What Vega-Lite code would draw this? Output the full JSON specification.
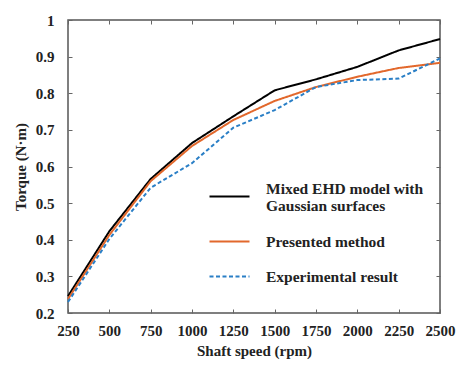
{
  "$schema": "https://vega.github.io/schema/vega-lite/v6.json",
  "width": 372,
  "height": 293,
  "autosize": "none",
  "padding": {"left": 68, "top": 20, "right": 34, "bottom": 59},
  "background": "white",
  "config": {
    "view": {"stroke": "#555", "strokeWidth": 1.5},
    "font": "Liberation Serif",
    "axis": {
      "labelFont": "Liberation Serif",
      "labelFontWeight": "bold",
      "labelFontSize": 15,
      "labelColor": "#222",
      "titleFont": "Liberation Serif",
      "titleFontWeight": "bold",
      "titleFontSize": 15,
      "titleColor": "#222",
      "grid": false,
      "domain": false,
      "tickColor": "#666",
      "tickWidth": 1,
      "tickSize": -4
    }
  },
  "data": {
    "values": [
      {"speed": 250, "torque": 0.246, "series": "Mixed EHD model with|Gaussian surfaces"},
      {"speed": 500, "torque": 0.423, "series": "Mixed EHD model with|Gaussian surfaces"},
      {"speed": 750, "torque": 0.566, "series": "Mixed EHD model with|Gaussian surfaces"},
      {"speed": 1000, "torque": 0.664, "series": "Mixed EHD model with|Gaussian surfaces"},
      {"speed": 1250, "torque": 0.737, "series": "Mixed EHD model with|Gaussian surfaces"},
      {"speed": 1500, "torque": 0.808, "series": "Mixed EHD model with|Gaussian surfaces"},
      {"speed": 1750, "torque": 0.838, "series": "Mixed EHD model with|Gaussian surfaces"},
      {"speed": 2000, "torque": 0.872, "series": "Mixed EHD model with|Gaussian surfaces"},
      {"speed": 2250, "torque": 0.917, "series": "Mixed EHD model with|Gaussian surfaces"},
      {"speed": 2500, "torque": 0.948, "series": "Mixed EHD model with|Gaussian surfaces"},
      {"speed": 250, "torque": 0.238, "series": "Presented method"},
      {"speed": 500, "torque": 0.413, "series": "Presented method"},
      {"speed": 750, "torque": 0.56, "series": "Presented method"},
      {"speed": 1000, "torque": 0.656, "series": "Presented method"},
      {"speed": 1250, "torque": 0.727, "series": "Presented method"},
      {"speed": 1500, "torque": 0.779, "series": "Presented method"},
      {"speed": 1750, "torque": 0.817, "series": "Presented method"},
      {"speed": 2000, "torque": 0.845, "series": "Presented method"},
      {"speed": 2250, "torque": 0.869, "series": "Presented method"},
      {"speed": 2500, "torque": 0.883, "series": "Presented method"},
      {"speed": 250, "torque": 0.23, "series": "Experimental result"},
      {"speed": 500, "torque": 0.402, "series": "Experimental result"},
      {"speed": 750, "torque": 0.542, "series": "Experimental result"},
      {"speed": 1000, "torque": 0.609, "series": "Experimental result"},
      {"speed": 1250, "torque": 0.706, "series": "Experimental result"},
      {"speed": 1500, "torque": 0.754, "series": "Experimental result"},
      {"speed": 1750, "torque": 0.817, "series": "Experimental result"},
      {"speed": 2000, "torque": 0.836, "series": "Experimental result"},
      {"speed": 2250, "torque": 0.84, "series": "Experimental result"},
      {"speed": 2500, "torque": 0.895, "series": "Experimental result"}
    ]
  },
  "layer": [
    {
      "mark": {"type": "line", "strokeWidth": 2},
      "encoding": {
        "x": {
          "field": "speed", "type": "quantitative",
          "scale": {"domain": [250, 2500], "nice": false, "zero": false},
          "axis": {"values": [250, 500, 750, 1000, 1250, 1500, 1750, 2000, 2250, 2500], "format": "d", "title": "Shaft speed (rpm)", "labelPadding": 14, "titlePadding": 5, "labelFlush": false}
        },
        "y": {
          "field": "torque", "type": "quantitative",
          "scale": {"domain": [0.2, 1], "nice": false, "zero": false},
          "axis": {"values": [0.2, 0.3, 0.4, 0.5, 0.6, 0.7, 0.8, 0.9, 1], "format": "~g", "title": "Torque (N·m)", "labelPadding": 18, "titlePadding": 7, "labelFlush": false}
        },
        "color": {
          "field": "series", "type": "nominal",
          "scale": {
            "domain": ["Mixed EHD model with|Gaussian surfaces", "Presented method", "Experimental result"],
            "range": ["#000000", "#e2682c", "#2a7fc6"]
          },
          "legend": {
            "orient": "none", "legendX": 140, "legendY": 155, "title": null,
            "symbolType": "stroke", "symbolSize": 1600, "symbolStrokeWidth": 2.2,
            "labelExpr": "split(datum.label, '|')",
            "labelFont": "Liberation Serif", "labelFontWeight": "bold", "labelFontSize": 15.5,
            "labelColor": "#222", "labelOffset": 15, "rowPadding": 5, "labelLimit": 300,
            "encode": {"labels": {"update": {"dy": {"signal": "indexof(datum.value, '|') > 0 ? -8 : 0"}}}}
          }
        },
        "strokeDash": {
          "field": "series", "type": "nominal",
          "scale": {
            "domain": ["Mixed EHD model with|Gaussian surfaces", "Presented method", "Experimental result"],
            "range": [[1, 0], [1, 0], [4, 2.5]]
          },
          "legend": {
            "orient": "none", "legendX": 140, "legendY": 155, "title": null,
            "symbolType": "stroke", "symbolSize": 1600, "symbolStrokeWidth": 2.2,
            "labelExpr": "split(datum.label, '|')",
            "labelFont": "Liberation Serif", "labelFontWeight": "bold", "labelFontSize": 15.5,
            "labelColor": "#222", "labelOffset": 15, "rowPadding": 5, "labelLimit": 300,
            "encode": {"labels": {"update": {"dy": {"signal": "indexof(datum.value, '|') > 0 ? -8 : 0"}}}}
          }
        }
      }
    },
    {
      "mark": {"type": "line", "opacity": 0},
      "encoding": {
        "x": {"field": "speed", "type": "quantitative", "axis": {"orient": "top", "labels": false, "title": null, "values": [250, 500, 750, 1000, 1250, 1500, 1750, 2000, 2250, 2500]}},
        "y": {"field": "torque", "type": "quantitative", "axis": {"orient": "right", "labels": false, "title": null, "values": [0.2, 0.3, 0.4, 0.5, 0.6, 0.7, 0.8, 0.9, 1]}},
        "detail": {"field": "series"}
      }
    }
  ],
  "resolve": {"axis": {"x": "independent", "y": "independent"}}
}
